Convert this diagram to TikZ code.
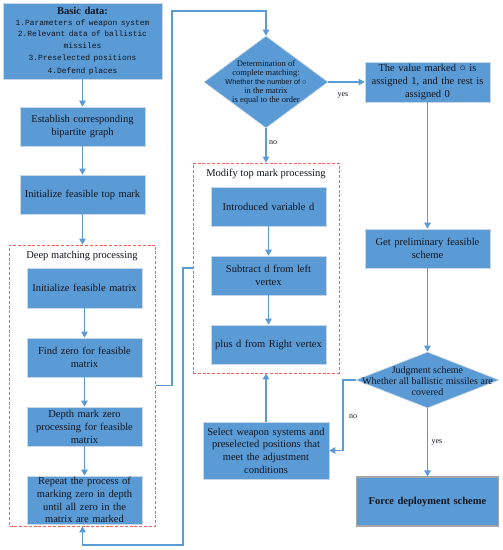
\documentclass[tikz,border=0pt]{standalone}
\usepackage{fontspec}
\setmainfont{Liberation Serif}
\setmonofont{Liberation Mono}
\newfontfamily\arialf{Liberation Sans}
\usetikzlibrary{arrows.meta,shapes.geometric}
\definecolor{boxblue}{HTML}{5B9BD5}
\definecolor{boxedge}{HTML}{C9D6E6}
\definecolor{linkblue}{HTML}{5B9BD5}
\definecolor{dashred}{HTML}{FF5C5C}
\definecolor{txt}{HTML}{10141F}
\definecolor{forceedge}{HTML}{A6A6A6}
\begin{document}
\begin{tikzpicture}[x=1pt,y=-1pt,
  box/.style={rectangle, fill=boxblue, draw=boxedge, line width=0.6pt, inner sep=0pt,
    align=center, text=txt, font=\fontsize{10.5}{13}\selectfont},
  dia/.style={diamond, fill=boxblue, draw=boxedge, line width=0.6pt, inner sep=0pt},
  flow/.style={draw=linkblue, line width=1.1pt, -{Triangle[length=6pt,width=6.5pt]}},
  dbox/.style={rectangle, draw=dashred, dash pattern=on 3pt off 1.8pt, line width=0.9pt, inner sep=0pt},
  lab/.style={font=\fontsize{8}{9}\selectfont, text=txt, inner sep=0pt},
  title/.style={font=\fontsize{10.5}{13}\selectfont, text=txt, inner sep=0pt}
]
\useasboundingbox (0,0) rectangle (503,550);

% left column
\node[box, minimum width=159pt, minimum height=76pt, text width=155pt] (basic) at (82.5,41)
  {\textbf{Basic data:}\\[-1pt]
   \ttfamily\fontsize{7.9}{11.7}\selectfont 1.Parameters of weapon system\\2.Relevant data of ballistic\\missiles\\3.Preselected positions\\4.Defend places};
\node[box, minimum width=125pt, minimum height=39pt, text width=121pt] (estab) at (82.5,126.5)
  {Establish corresponding\\bipartite graph};
\node[box, minimum width=125pt, minimum height=39pt, text width=121pt] (inittop) at (82.5,194.5)
  {Initialize feasible top mark};

\node[dbox, minimum width=146pt, minimum height=281pt] (deep) at (82.5,385.5) {};
\node[title] (deeplab) at (82,256) {Deep matching processing};
\node[box, minimum width=115pt, minimum height=40pt, text width=111pt] (initmat) at (84.5,288)
  {Initialize feasible matrix};
\node[box, minimum width=115pt, minimum height=39pt, text width=111pt] (findzero) at (84.5,357.5)
  {Find zero for feasible\\matrix};
\node[box, minimum width=115pt, minimum height=39pt, text width=111pt] (depth) at (84.5,426.5)
  {Depth mark zero\\processing for feasible\\matrix};
\node[box, minimum width=115pt, minimum height=48pt, text width=113pt, font=\fontsize{10.5}{12.7}\selectfont] (repeat) at (84.5,500)
  {Repeat the process of\\marking zero in depth\\until all zero in the\\matrix are marked};

% middle column
\node[dia, minimum width=124pt, minimum height=92pt] (d1) at (266,82) {};
\node[align=center, text=txt, inner sep=0pt, font=\fontsize{8.5}{9}\selectfont] (d1t) at (266,82.5)
  {Determination of\\complete matching:\\
   \arialf\fontsize{7.3}{9}\selectfont Whether the number of ○\\in the matrix\\is equal to the order};

\node[dbox, minimum width=146pt, minimum height=210pt] (modify) at (266,268) {};
\node[title] (modlab) at (266,174) {Modify top mark processing};
\node[box, minimum width=115pt, minimum height=39pt, text width=111pt] (intro) at (268.5,206.5)
  {Introduced variable d};
\node[box, minimum width=115pt, minimum height=39pt, text width=111pt] (subtr) at (268.5,275.5)
  {Subtract d from left\\vertex};
\node[box, minimum width=115pt, minimum height=39pt, text width=111pt] (plusd) at (268.5,344.5)
  {plus d from Right vertex};
\node[box, minimum width=126pt, minimum height=57pt, text width=124pt, font=\fontsize{10.5}{12.7}\selectfont] (select) at (266,450.5)
  {Select weapon systems and\\preselected positions that\\meet the adjustment\\conditions};

% right column
\node[box, minimum width=125pt, minimum height=40pt, text width=123pt] (value) at (427.5,82)
  {The value marked ○ is\\assigned 1, and the rest is\\assigned 0};
\node[box, minimum width=125pt, minimum height=39pt, text width=121pt] (getpre) at (427.5,248.5)
  {Get preliminary feasible\\scheme};
\node[dia, minimum width=143pt, minimum height=56pt] (d2) at (427.5,380) {};
\node[align=center, text=txt, inner sep=0pt, font=\fontsize{10}{11}\selectfont] (d2t) at (427.5,381)
  {Judgment scheme\\Whether all ballistic missiles are\\covered};
\node[box, draw=forceedge, line width=1.2pt, minimum width=142pt, minimum height=49pt, text width=138pt] (force) at (427.5,501.5)
  {\textbf{Force deployment scheme}};

% connectors
\draw[flow] (basic.south) -- (estab.north);
\draw[flow] (estab.south) -- (inittop.north);
\draw[flow] (inittop.south) -- (deep.north);
\draw[flow] (initmat.south) -- (findzero.north);
\draw[flow] (findzero.south) -- (depth.north);
\draw[flow] (depth.south) -- (repeat.north);
\draw[flow] (deep.east) -| (172,11) -| (d1.north);
\draw[flow] (d1.east) -- (value.west);
\node[lab] (yes1) at (343,95) {yes};
\draw[flow] (d1.south) -- (modify.north);
\node[lab] (no1) at (273,143) {no};
\draw[flow] (intro.south) -- (subtr.north);
\draw[flow] (subtr.south) -- (plusd.north);
\draw[flow] (value.south) -- (getpre.north);
\draw[flow] (getpre.south) -- (d2.north);
\draw[flow] (d2.south) -- (force.north);
\node[lab] (yes2) at (437,442) {yes};
\draw[flow] (d2.west) -| (343,450.5) -- (select.east);
\node[lab] (no2) at (353,417) {no};
\draw[flow] (select.north) -- (modify.south);
\draw[flow] (modify.west) -| (183,545) -| (deep.south);
\end{tikzpicture}
\end{document}
